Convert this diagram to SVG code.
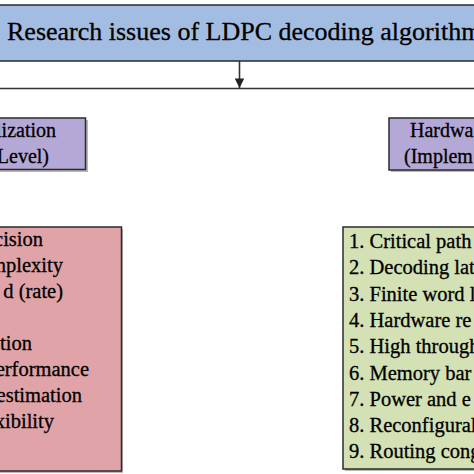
<svg xmlns="http://www.w3.org/2000/svg" width="474" height="474" viewBox="0 0 474 474">
<style>
text{font-family:"Liberation Serif","Times New Roman",serif;fill:#000;stroke:#000;stroke-width:0.3}
.t{font-size:26px}
.p{font-size:20px}
.i{font-size:20.5px}
.box{stroke:#2b2b2b;stroke-width:1.5}
.sh{fill:#b8b8b8}
.ln{stroke:#333;stroke-width:1.6;fill:none}
</style>
<defs>
<marker id="ah" viewBox="0 0 10 10" refX="10" refY="5" markerWidth="6" markerHeight="6" markerUnits="strokeWidth" orient="auto">
<path d="M0,0 L10,5 L0,10 Z" fill="#222"/>
</marker>
</defs>
<rect width="474" height="474" fill="#fff"/>
<g id="connectors">
<line class="ln" x1="-5" y1="88.5" x2="480" y2="88.5"/>
<line class="ln" x1="239.5" y1="61" x2="239.5" y2="88" marker-end="url(#ah)"/>
</g>
<g id="root">
<rect class="box" x="-10" y="5" width="494" height="56" fill="#a3bde2" stroke="#2c3a4f"/>
<text class="t" x="7" y="40">Research issues of LDPC decoding algorithm</text>
</g>
<g id="algo-level">
<rect class="sh" x="-8" y="120" width="96" height="52"/>
<rect class="box" x="-10" y="118" width="95.5" height="51.5" fill="#b4a8d6"/>
<text class="p" x="56" y="137" text-anchor="end">lization</text>
<text class="p" x="49" y="163" text-anchor="end">Level)</text>
</g>
<g id="hw-level">
<rect class="sh" x="391" y="120" width="90" height="52"/>
<rect class="box" x="389" y="118" width="95" height="52" fill="#b4a8d6"/>
<text class="p" x="410" y="137">Hardwa</text>
<text class="p" x="404" y="163">(Implem</text>
</g>
<g id="algo-issues">
<rect class="sh" x="-8" y="229" width="131" height="244"/>
<rect class="box" x="-10" y="227" width="131.5" height="244" fill="#e0a3a8"/>
<text class="i" x="43" y="246" text-anchor="end">cision</text>
<text class="i" x="63" y="272" text-anchor="end">nplexity</text>
<text class="i" x="63" y="298" text-anchor="end">d (rate)</text>
<text class="i" x="32" y="350" text-anchor="end">tion</text>
<text class="i" x="89" y="376" text-anchor="end">erformance</text>
<text class="i" x="82" y="402" text-anchor="end">estimation</text>
<text class="i" x="54" y="428" text-anchor="end">exibility</text>
</g>
<g id="hw-issues">
<rect class="sh" x="345" y="229" width="140" height="242"/>
<rect class="box" x="343" y="227" width="140" height="242" fill="#d3e1b5"/>
<text class="i" x="349" y="248">1. Critical path</text>
<text class="i" x="349" y="274.3">2. Decoding lat</text>
<text class="i" x="349" y="300.6">3. Finite word l</text>
<text class="i" x="349" y="326.9">4. Hardware re</text>
<text class="i" x="349" y="353.2">5. High through</text>
<text class="i" x="349" y="379.5">6. Memory bar</text>
<text class="i" x="349" y="405.8">7. Power and e</text>
<text class="i" x="349" y="432.1">8. Reconfigural</text>
<text class="i" x="349" y="458.4">9. Routing cong</text>
</g>
</svg>
